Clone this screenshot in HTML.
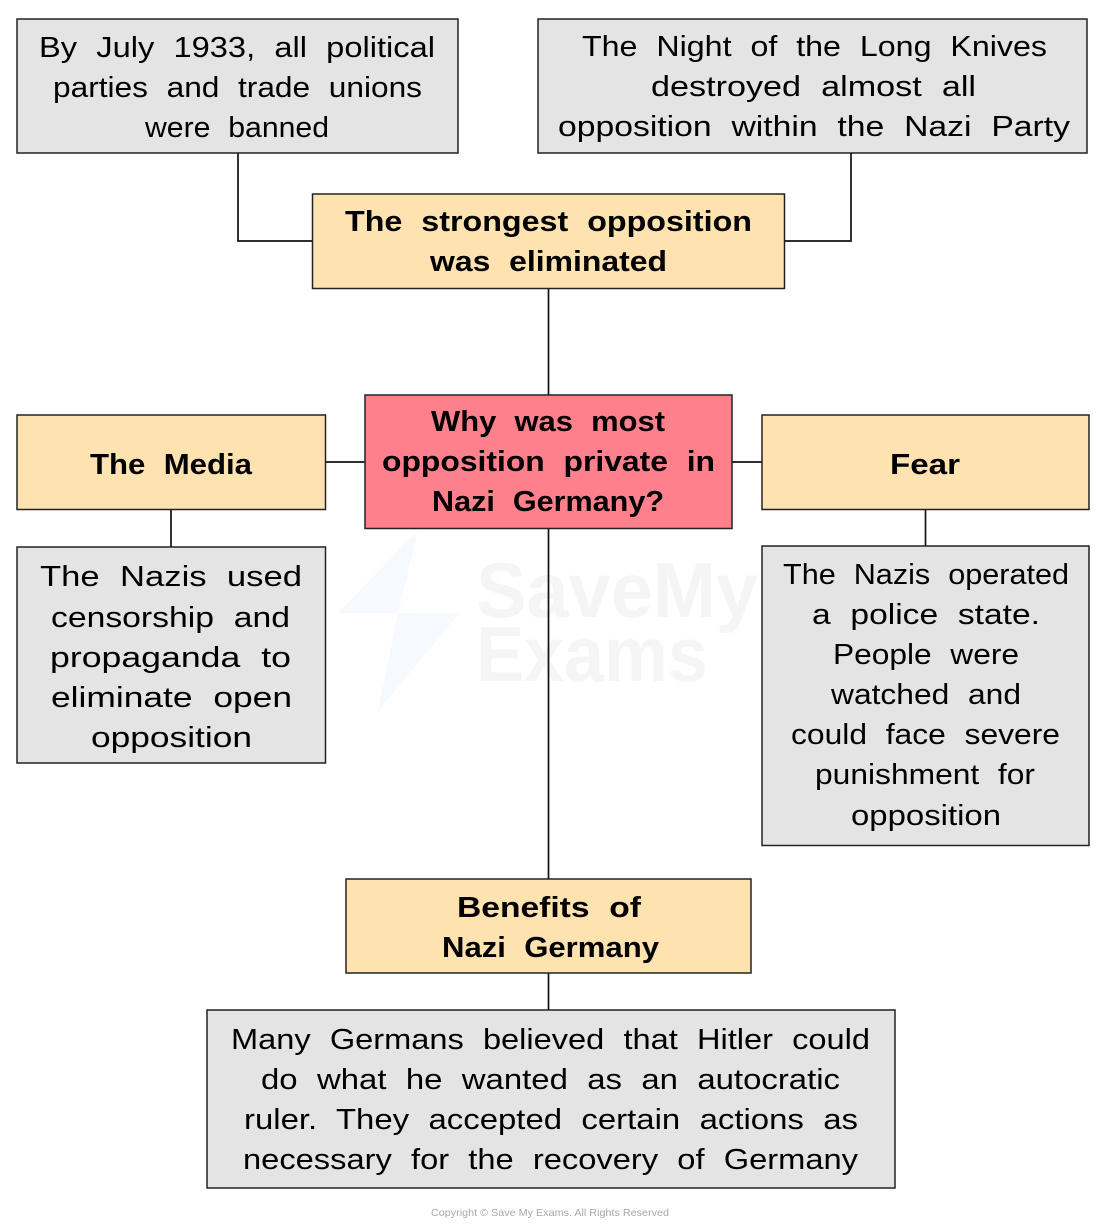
<!DOCTYPE html>
<html>
<head>
<meta charset="utf-8">
<style>
html,body{margin:0;padding:0;background:#fff}
svg{display:block}
text{font-family:"Liberation Sans",sans-serif;fill:#000;word-spacing:9px}
.r{font-size:29px}
.b{font-size:29px;font-weight:bold}
.box{stroke:#222;stroke-width:1.5}
.g{fill:#e4e4e4}
.y{fill:#fee2b0}
line,path.c{stroke:#111;stroke-width:1.7;fill:none}
.wm{font-size:78px;font-weight:bold;fill:#f5f5f5;word-spacing:0}
.cp{font-size:10.5px;fill:#a8a8a8;word-spacing:0}
</style>
</head>
<body>
<svg width="1100" height="1227" viewBox="0 0 1100 1227" xmlns="http://www.w3.org/2000/svg">
<rect width="1100" height="1227" fill="#fff"/>
<!-- watermark -->
<polygon points="418,530 338,613 398,613 378,711 459,614 398,613" fill="#f6f9ff"/>
<text class="wm" x="476" y="617" textLength="282" lengthAdjust="spacingAndGlyphs">SaveMy</text>
<text class="wm" x="476" y="681" textLength="232" lengthAdjust="spacingAndGlyphs">Exams</text>
<!-- connectors -->
<path class="c" d="M238 153V241H312"/>
<path class="c" d="M851 153V241H784"/>
<line x1="548.500" y1="288" x2="548.500" y2="395"/>
<line x1="325" y1="462" x2="365" y2="462"/>
<line x1="732" y1="462" x2="762" y2="462"/>
<line x1="171" y1="509" x2="171" y2="547"/>
<line x1="925.500" y1="509" x2="925.500" y2="546"/>
<line x1="548.500" y1="528" x2="548.500" y2="879"/>
<line x1="548.500" y1="973" x2="548.500" y2="1010"/>
<!-- boxes -->
<rect class="box g" x="17" y="19" width="441" height="134"/>
<rect class="box g" x="538" y="19" width="549" height="134"/>
<rect class="box y" x="312.500" y="194" width="472" height="94.500"/>
<rect class="box" fill="#ff808d" x="365" y="395" width="367" height="133.500"/>
<rect class="box y" x="17" y="415" width="308.500" height="94.500"/>
<rect class="box y" x="762" y="415" width="327" height="94.500"/>
<rect class="box g" x="17" y="547" width="308.500" height="216"/>
<rect class="box g" x="762" y="546" width="327" height="299.500"/>
<rect class="box y" x="346" y="879" width="405" height="94"/>
<rect class="box g" x="207" y="1010" width="688" height="178"/>
<!-- text -->
<g lengthAdjust="spacingAndGlyphs">
<text class="r" x="39" y="57" textLength="396" lengthAdjust="spacingAndGlyphs">By July 1933, all political</text>
<text class="r" x="53" y="97" textLength="369" lengthAdjust="spacingAndGlyphs">parties and trade unions</text>
<text class="r" x="145" y="137" textLength="184" lengthAdjust="spacingAndGlyphs">were banned</text>

<text class="r" x="582" y="56" textLength="465" lengthAdjust="spacingAndGlyphs">The Night of the Long Knives</text>
<text class="r" x="651" y="96" textLength="325" lengthAdjust="spacingAndGlyphs">destroyed almost all</text>
<text class="r" x="558" y="136" textLength="512" lengthAdjust="spacingAndGlyphs">opposition within the Nazi Party</text>

<text class="b" x="345" y="231" textLength="407" lengthAdjust="spacingAndGlyphs">The strongest opposition</text>
<text class="b" x="430" y="271" textLength="237" lengthAdjust="spacingAndGlyphs">was eliminated</text>

<text class="b" x="431" y="431" textLength="234" lengthAdjust="spacingAndGlyphs">Why was most</text>
<text class="b" x="382" y="471" textLength="333" lengthAdjust="spacingAndGlyphs">opposition private in</text>
<text class="b" x="432" y="511" textLength="232" lengthAdjust="spacingAndGlyphs">Nazi Germany?</text>

<text class="b" x="90" y="474" textLength="162" lengthAdjust="spacingAndGlyphs">The Media</text>
<text class="b" x="890" y="474" textLength="70" lengthAdjust="spacingAndGlyphs">Fear</text>

<text class="r" x="40" y="586" textLength="262" lengthAdjust="spacingAndGlyphs">The Nazis used</text>
<text class="r" x="51" y="627" textLength="239" lengthAdjust="spacingAndGlyphs">censorship and</text>
<text class="r" x="50" y="667" textLength="241" lengthAdjust="spacingAndGlyphs">propaganda to</text>
<text class="r" x="51" y="707" textLength="241" lengthAdjust="spacingAndGlyphs">eliminate open</text>
<text class="r" x="91" y="747" textLength="161" lengthAdjust="spacingAndGlyphs">opposition</text>

<text class="r" x="783" y="584" textLength="286" lengthAdjust="spacingAndGlyphs">The Nazis operated</text>
<text class="r" x="812" y="624" textLength="228" lengthAdjust="spacingAndGlyphs">a police state.</text>
<text class="r" x="833" y="664" textLength="186" lengthAdjust="spacingAndGlyphs">People were</text>
<text class="r" x="831" y="704" textLength="190" lengthAdjust="spacingAndGlyphs">watched and</text>
<text class="r" x="791" y="744" textLength="269" lengthAdjust="spacingAndGlyphs">could face severe</text>
<text class="r" x="815" y="784" textLength="220" lengthAdjust="spacingAndGlyphs">punishment for</text>
<text class="r" x="851" y="825" textLength="150" lengthAdjust="spacingAndGlyphs">opposition</text>

<text class="b" x="457" y="917" textLength="184" lengthAdjust="spacingAndGlyphs">Benefits of</text>
<text class="b" x="442" y="957" textLength="217" lengthAdjust="spacingAndGlyphs">Nazi Germany</text>

<text class="r" x="231" y="1049" textLength="639" lengthAdjust="spacingAndGlyphs">Many Germans believed that Hitler could</text>
<text class="r" x="261" y="1089" textLength="579" lengthAdjust="spacingAndGlyphs">do what he wanted as an autocratic</text>
<text class="r" x="244" y="1129" textLength="614" lengthAdjust="spacingAndGlyphs">ruler. They accepted certain actions as</text>
<text class="r" x="243" y="1169" textLength="615" lengthAdjust="spacingAndGlyphs">necessary for the recovery of Germany</text>
</g>

<text class="cp" x="431" y="1216" textLength="238" lengthAdjust="spacingAndGlyphs">Copyright © Save My Exams. All Rights Reserved</text>
</svg>
</body>
</html>
